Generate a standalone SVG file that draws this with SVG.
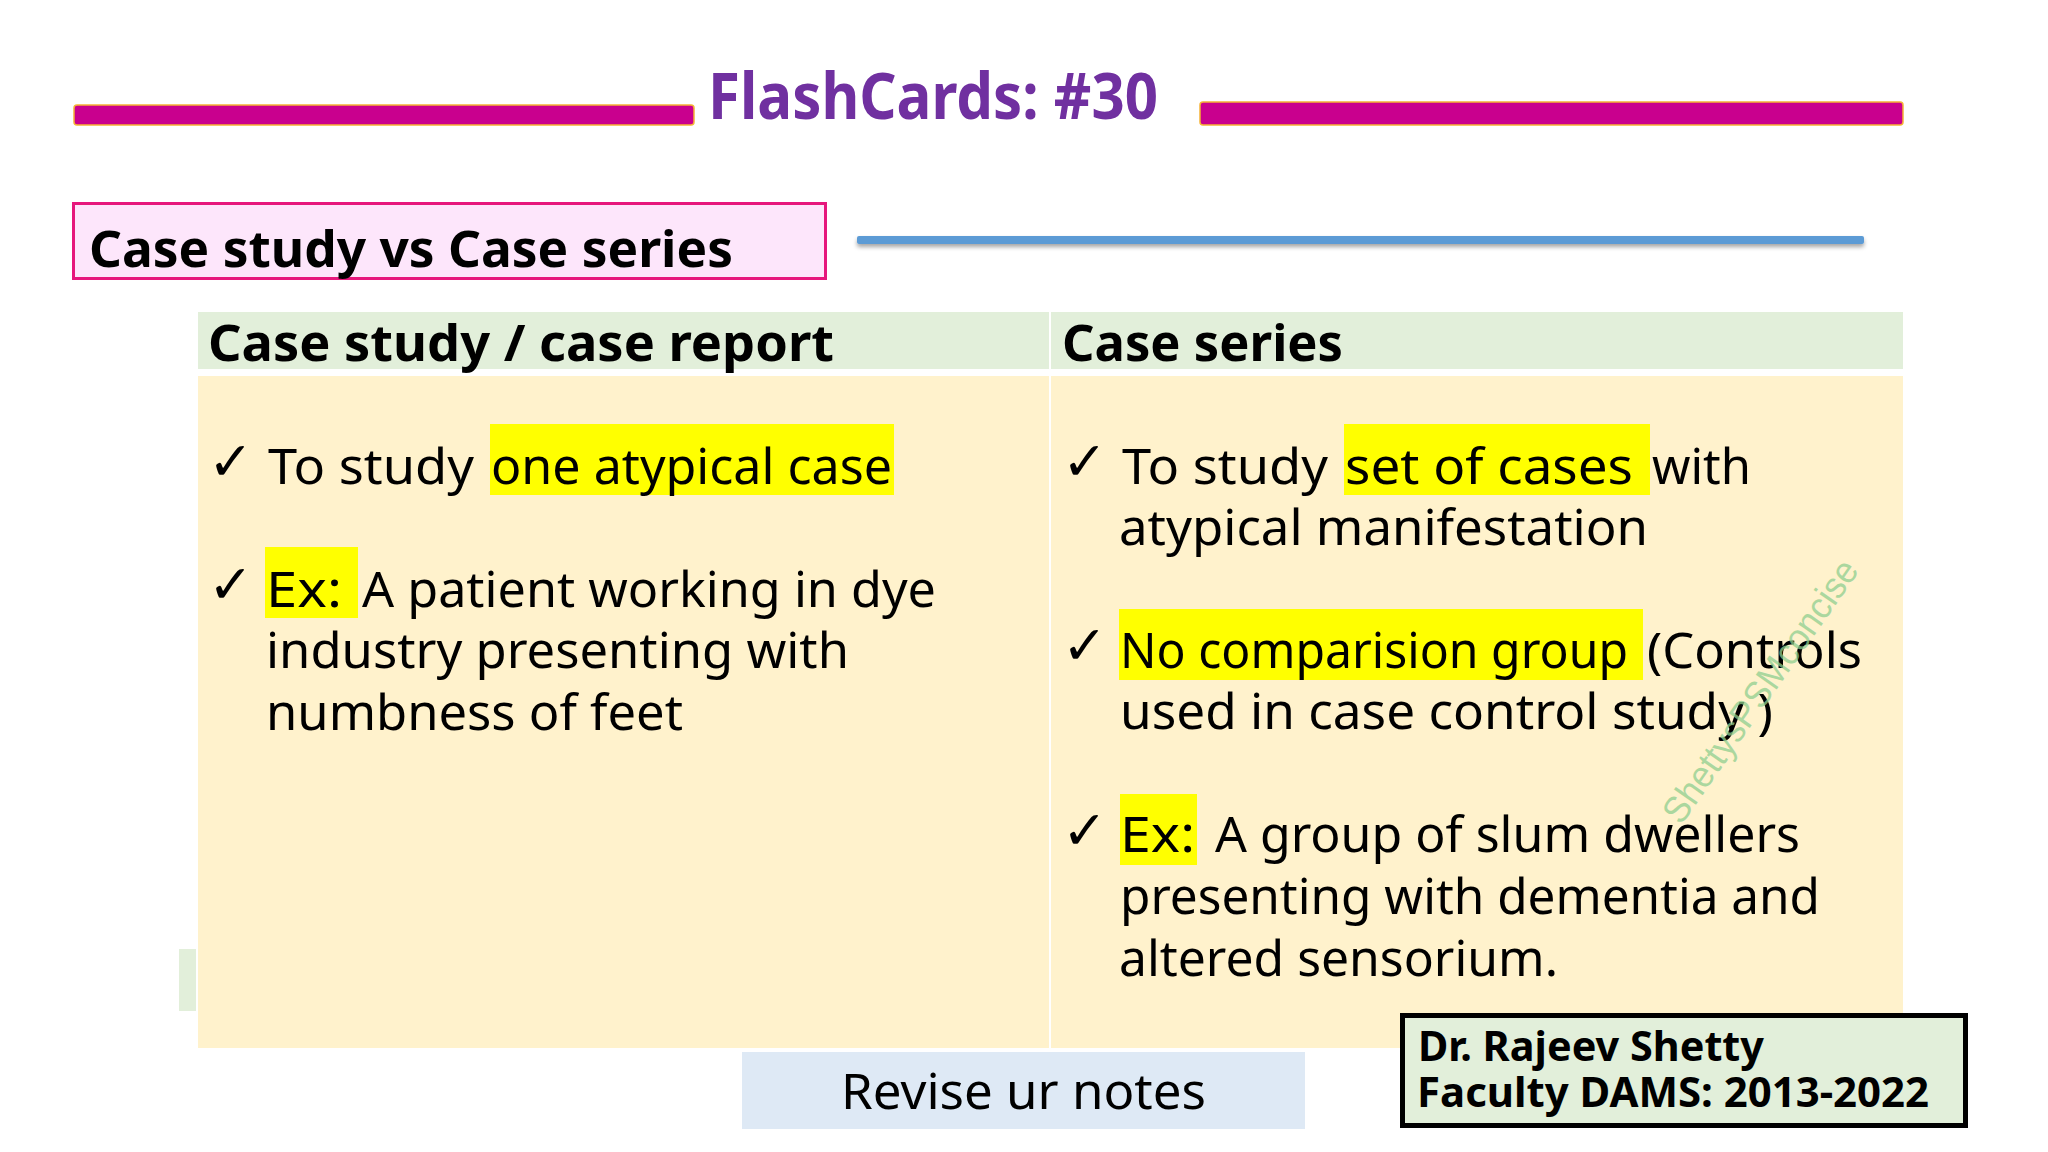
<svg xmlns="http://www.w3.org/2000/svg" width="2048" height="1152" viewBox="0 0 2048 1152">
<defs>
<filter id="sh" x="-2%" y="-100%" width="104%" height="300%"><feDropShadow dx="0" dy="3" stdDeviation="2" flood-color="#000" flood-opacity="0.35"/></filter>
</defs>
<style>
text{font-family:"Noto Sans","Open Sans",sans-serif;fill:#000;font-size:50px}
.b{font-weight:700}
.bar{fill:#c9008e;stroke:#f5b335;stroke-width:1.5}
.hl{fill:#ffff00}
.head{fill:#e2efda}
.body{fill:#fff2cc}
.ck{font-family:"DejaVu Sans",sans-serif;font-size:54px}
.sm{font-size:41px}
</style>
<rect width="2048" height="1152" fill="#fff"/>
<g id="title">
<rect class="bar" x="74" y="105" width="620" height="20" rx="3"/>
<rect class="bar" x="1200" y="102" width="703" height="23" rx="3"/>
<text x="708" y="119" class="b" style="fill:#7030a0;font-size:64px" textLength="450" lengthAdjust="spacingAndGlyphs">FlashCards: #30</text>
</g>
<g id="subtitle">
<rect x="73.500" y="203.500" width="752" height="75" fill="#fde6fb" stroke="#e6177c" stroke-width="3"/>
<text class="b" x="89" y="267" textLength="644" lengthAdjust="spacingAndGlyphs">Case study vs Case series</text>
<rect x="857" y="236" width="1007" height="8" rx="2" fill="#5b9bd5" filter="url(#sh)"/>
</g>
<g id="sliver"><rect x="179" y="949" width="17" height="62" fill="#e2efda"/></g>
<g id="table">
<rect class="head" x="198" y="312" width="1705" height="57"/>
<rect class="body" x="198" y="376" width="1705" height="672"/>
<rect x="1049" y="312" width="2" height="736" fill="#fff"/>
</g>
<g id="col-left">
<text class="b" x="208" y="361" textLength="626" lengthAdjust="spacingAndGlyphs">Case study / case report</text>
<rect class="hl" x="490" y="424" width="404" height="71"/>
<rect class="hl" x="265" y="547" width="93" height="71"/>
<text class="ck" x="208" y="480">✓</text>
<text x="268" y="484" textLength="206" lengthAdjust="spacingAndGlyphs">To study</text>
<text x="491" y="484" textLength="401" lengthAdjust="spacingAndGlyphs">one atypical case</text>
<text class="ck" x="208" y="603">✓</text>
<text x="266" y="607" textLength="76" lengthAdjust="spacingAndGlyphs">Ex:</text>
<text x="362" y="607" textLength="574" lengthAdjust="spacingAndGlyphs">A patient working in dye</text>
<text x="266" y="668" textLength="583" lengthAdjust="spacingAndGlyphs">industry presenting with</text>
<text x="266" y="730" textLength="417" lengthAdjust="spacingAndGlyphs">numbness of feet</text>
</g>
<g id="col-right">
<text class="b" x="1062" y="361" textLength="281" lengthAdjust="spacingAndGlyphs">Case series</text>
<rect class="hl" x="1344" y="424" width="306" height="71"/>
<rect class="hl" x="1119" y="609" width="524" height="71"/>
<rect class="hl" x="1120" y="794" width="77" height="71"/>
<text class="ck" x="1062" y="480">✓</text>
<text x="1122" y="484" textLength="206" lengthAdjust="spacingAndGlyphs">To study</text>
<text x="1345" y="484" textLength="288" lengthAdjust="spacingAndGlyphs">set of cases</text>
<text x="1652" y="484" textLength="99" lengthAdjust="spacingAndGlyphs">with</text>
<text x="1119" y="545" textLength="529" lengthAdjust="spacingAndGlyphs">atypical manifestation</text>
<text class="ck" x="1062" y="664">✓</text>
<text x="1120" y="668" textLength="508" lengthAdjust="spacingAndGlyphs">No comparision group</text>
<text x="1647" y="668" textLength="215" lengthAdjust="spacingAndGlyphs">(Controls</text>
<text x="1120" y="729" textLength="653" lengthAdjust="spacingAndGlyphs">used in case control study )</text>
<text class="ck" x="1062" y="849">✓</text>
<text x="1120" y="852" textLength="75" lengthAdjust="spacingAndGlyphs">Ex:</text>
<text x="1215" y="852" textLength="585" lengthAdjust="spacingAndGlyphs">A group of slum dwellers</text>
<text x="1120" y="914" textLength="700" lengthAdjust="spacingAndGlyphs">presenting with dementia and</text>
<text x="1119" y="976" textLength="439" lengthAdjust="spacingAndGlyphs">altered sensorium.</text>
</g>
<g id="watermark"><text transform="translate(1681 826) rotate(-55)" style="font-family:'Liberation Sans',sans-serif;font-size:37px;fill:#8fce8f;fill-opacity:.75" textLength="312" lengthAdjust="spacingAndGlyphs">ShettysPSMconcise</text></g>
<g id="revise">
<rect x="742" y="1052" width="563" height="77" fill="#dee9f5"/>
<text x="841" y="1109" textLength="365" lengthAdjust="spacingAndGlyphs">Revise ur notes</text>
</g>
<g id="credit">
<rect x="1402.500" y="1015.500" width="563" height="110" fill="#e2efda" stroke="#000" stroke-width="5"/>
<text class="b sm" x="1418" y="1061" textLength="346" lengthAdjust="spacingAndGlyphs">Dr. Rajeev Shetty</text>
<text class="b sm" x="1417" y="1107" textLength="512" lengthAdjust="spacingAndGlyphs">Faculty DAMS: 2013-2022</text>
</g>
</svg>
